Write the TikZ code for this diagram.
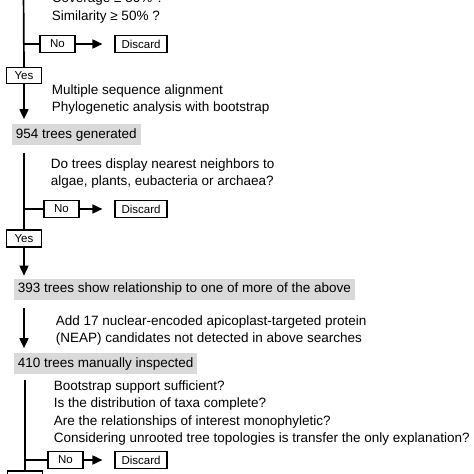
\documentclass[tikz,border=0pt]{standalone}
\usepackage{fontspec}
\setmainfont{Liberation Sans}
\usetikzlibrary{arrows.meta}

\begin{document}
\begin{tikzpicture}[x=1pt, y=-1pt, line width=1.7pt,
	answer/.style={draw, line width=1.1pt, inner sep=0pt, minimum width=35pt, minimum height=17pt, font=\fontsize{11.5}{13}\selectfont},
	result/.style={fill=black!15, anchor=west, inner xsep=4pt, inner ysep=4pt, text height=10pt, text depth=3pt, font=\fontsize{13.5}{17.3}\selectfont},
	note/.style={anchor=north west, align=left, inner sep=0pt, font=\fontsize{13.5}{17.3}\selectfont},
	flow/.style={-{Triangle[length=10pt, width=9pt]}}]
	\useasboundingbox (0,0) rectangle (474,474);
	\clip (0,0) rectangle (474,474);

	\coordinate (spine) at (23.5,-10);

	% questions and steps
	\node[note] (crit1) at (51,-7.5) {Coverage ≥ 50\% ?\\Similarity ≥ 50\% ?};
	\node[note] (step1) at (51,83.5) {Multiple sequence alignment\\Phylogenetic analysis with bootstrap};
	\node[note] (crit2) at (50,157.5) {Do trees display nearest neighbors to\\algae, plants, eubacteria or archaea?};
	\node[note] (step2) at (55,314.5) {Add 17 nuclear-encoded apicoplast-targeted protein\\(NEAP) candidates not detected in above searches};
	\node[note] (crit3) at (53,380) {Bootstrap support sufficient?\\Is the distribution of taxa complete?\\Are the relationships of interest monophyletic?\\Considering unrooted tree topologies is transfer the only explanation?};

	% counts
	\node[result] (res954) at (11,134.5) {954 trees generated};
	\node[result] (res393) at (13,289) {393 trees show relationship to one of more of the above};
	\node[result] (res410) at (13,363.5) {410 trees manually inspected};

	\node[answer, minimum height=16pt] (yes1) at (24,75.5) {Yes};
	\node[answer] (yes2) at (24,238.5) {Yes};
	\node[answer] (yes3) at (25,479.5) {Yes};

	\draw (spine) -- (yes1.north);
	\draw (yes2 |- res954.south) [shorten <=7pt] -- (yes2.north);
	\draw (yes3 |- res410.south) [shorten <=5pt] -- (yes3.north);

	\draw[flow, shorten >=4pt] (yes1.south) -- (yes1.south |- res954.north);
	\draw[flow, shorten >=2pt] (yes2.south) -- (yes2.south |- res393.north);
	\draw[flow, shorten <=8pt, shorten >=4pt] (yes2 |- res393.south) -- (yes2 |- res410.north);

	\foreach \n/\x/\y in {1/57.5/44, 2/61.5/209, 3/65.5/460} {
		\node[answer] (no\n) at (\x,\y) {No};
		\node[answer, minimum width=52pt] (discard\n) at (141,\y) {Discard};
		\draw (no\n.west) -- (no\n.west -| spine);
		\draw[flow, shorten >=12pt] (no\n) -- (discard\n);
	}
\end{tikzpicture}
\end{document}
